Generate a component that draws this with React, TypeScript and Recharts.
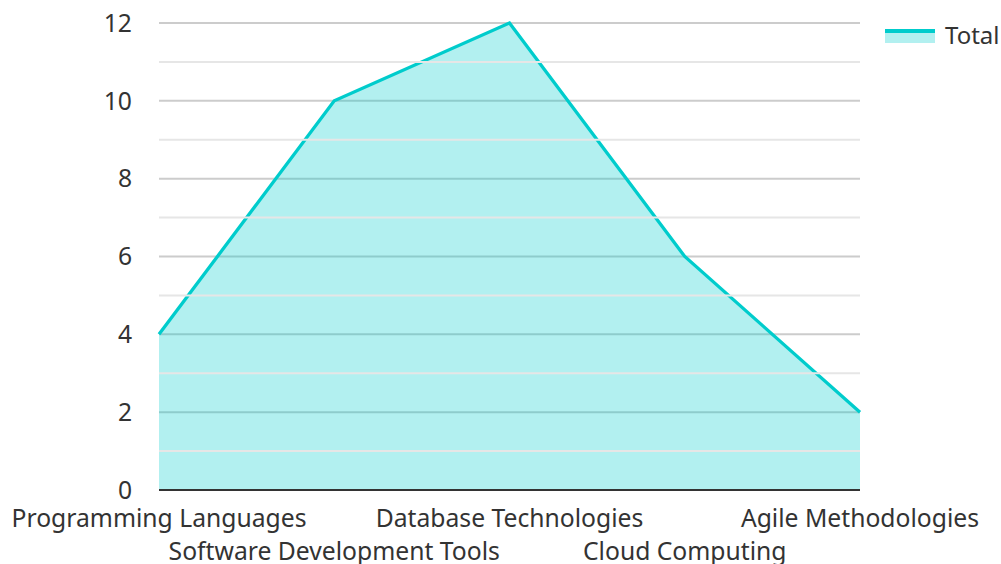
import { AreaChart, Area, XAxis, YAxis, CartesianGrid, ReferenceLine } from 'recharts';

const categories = [
  'Programming Languages',
  'Software Development Tools',
  'Database Technologies',
  'Cloud Computing',
  'Agile Methodologies',
];
const totals = [4, 10, 12, 6, 2];
const majorTicks = [0, 2, 4, 6, 8, 10, 12];
const minorTicks = [1, 3, 5, 7, 9, 11];

const data = categories.map((name, i) => ({ name, Total: totals[i] }));

const FONT = '"Noto Sans", sans-serif';
const LINE = '#00cccc';

// labels alternate between two rows so they don't overlap
function AltTick(props: any) {
  const { x, y, payload, index } = props;
  const row = index % 2;
  return (
    <text
      x={x}
      y={y + 29 + row * 33}
      textAnchor="middle"
      fill="#333"
      fontSize={24.7}
      fontFamily={FONT}
    >
      {payload.value}
    </text>
  );
}

export default function App() {
  return (
    <div style={{ position: 'absolute', left: 0, top: 0, width: 1001, height: 564, background: '#fff' }}>
      <AreaChart
        width={1001}
        height={564}
        data={data}
        margin={{ top: 23, right: 141, bottom: 0, left: 0 }}
      >
        <CartesianGrid vertical={false} stroke="#cccccc" strokeWidth={2} />
        {minorTicks.map((v) => (
          <ReferenceLine key={v} y={v} stroke="#e6e6e6" strokeWidth={2} />
        ))}
        <XAxis
          dataKey="name"
          interval={0}
          tick={<AltTick />}
          tickLine={false}
          axisLine={{ stroke: '#333', strokeWidth: 2 }}
          height={74}
          padding={{ left: 0, right: 0 }}
        />
        <YAxis
          domain={[0, 12]}
          ticks={majorTicks}
          width={159}
          axisLine={false}
          tickLine={false}
          tickMargin={21}
          tick={{ fill: '#333', fontSize: 24.7, fontFamily: FONT }}
        />
        <Area
          type="linear"
          dataKey="Total"
          stroke={LINE}
          strokeWidth={3.3}
          fill={LINE}
          fillOpacity={0.3}
          isAnimationActive={false}
          dot={false}
          activeDot={false}
        />
      </AreaChart>
      <div
        style={{
          position: 'absolute',
          left: 885,
          top: 18,
          display: 'flex',
          alignItems: 'center',
          fontFamily: FONT,
          fontSize: 24,
          color: '#333',
        }}
      >
        <svg width={50} height={18} style={{ marginRight: 10 }}>
          <rect x={0} y={3} width={50} height={14} fill={LINE} fillOpacity={0.3} />
          <rect x={0} y={3} width={50} height={4} fill={LINE} />
        </svg>
        Total
      </div>
    </div>
  );
}
